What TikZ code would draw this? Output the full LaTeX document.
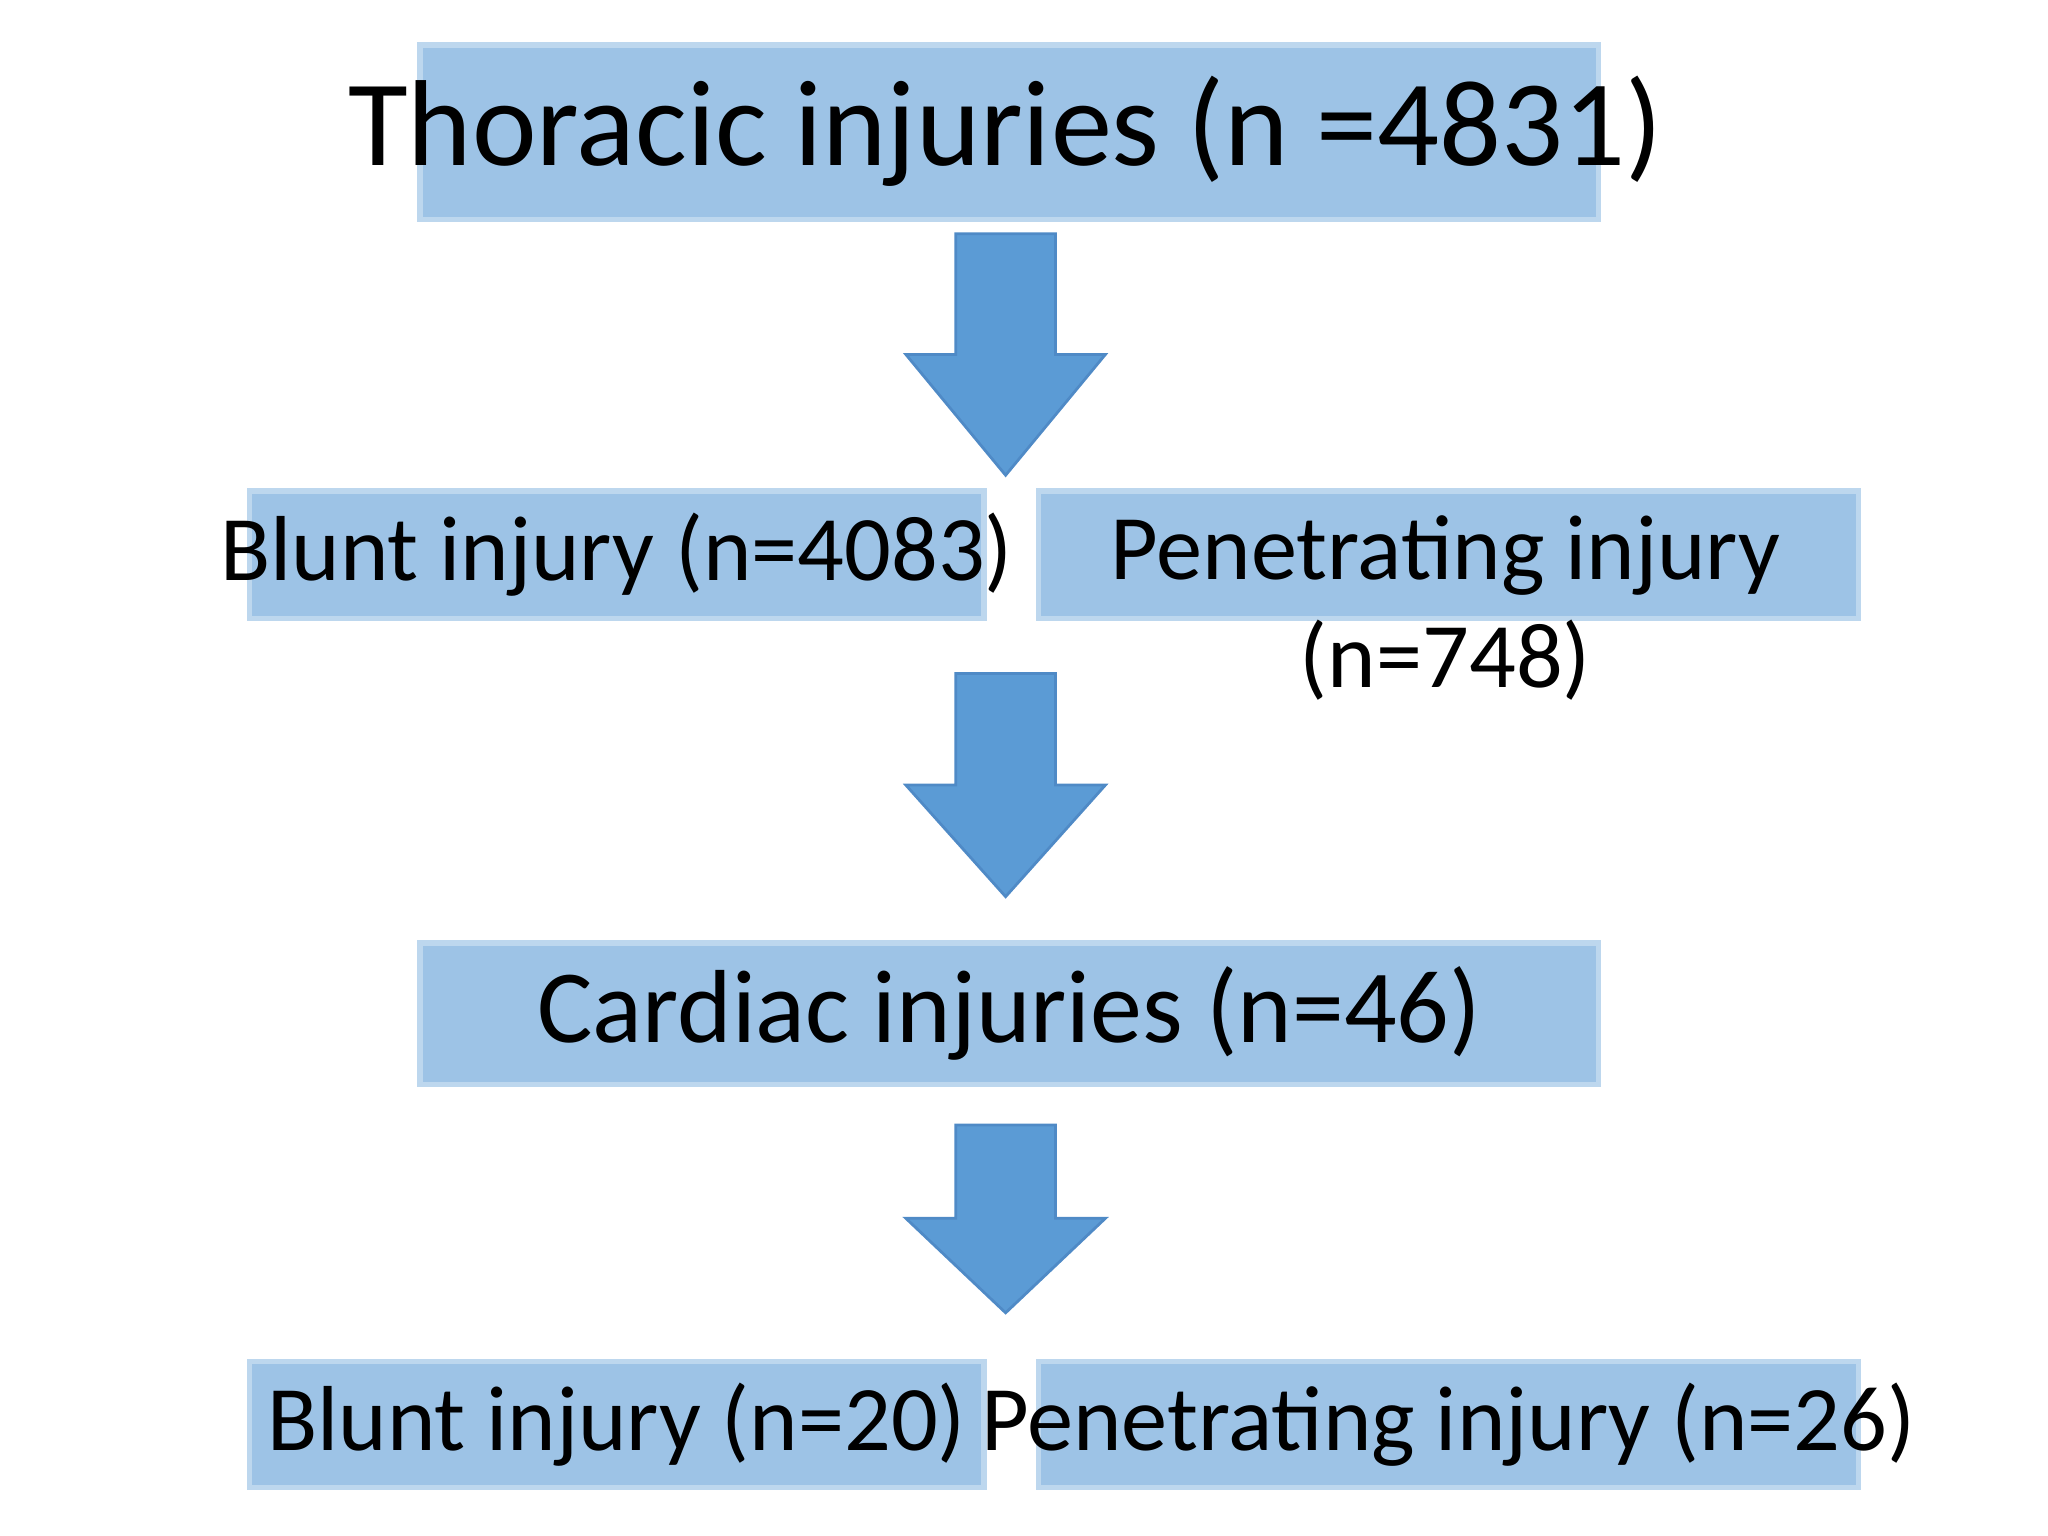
\documentclass[tikz,border=0pt]{standalone}
\usepackage{fontspec}
\setmainfont{Carlito}
\begin{document}
\begin{tikzpicture}[x=0.01cm,y=-0.01cm,
  box/.style={fill=boxfill,draw=boxline,line width=1.2pt,inner sep=0pt,anchor=north west},
  bigarrow/.style={fill=arrfill,draw=arrline,line width=0.6pt}]
\definecolor{boxfill}{HTML}{9DC3E6}
\definecolor{boxline}{HTML}{BDD7EE}
\definecolor{arrfill}{HTML}{5B9BD5}
\definecolor{arrline}{HTML}{4F8AC6}
\useasboundingbox (0,0) rectangle (1560,1170);
\node[box,minimum width=897\pgflinewidth*0+8.97cm,minimum height=1.33cm] (top) at (318,32) {};
\node[font=\fontsize{26.5}{30}\selectfont] (toptxt) at (766,100) {Thoracic injuries (n =4831)};
\node[box,minimum width=5.59cm,minimum height=0.97cm] (blunt1) at (188,372) {};
\node[font=\fontsize{20}{24}\selectfont] at (blunt1.center) {Blunt injury (n=4083)};
\node[box,minimum width=6.24cm,minimum height=0.97cm] (pen1) at (789,372) {};
\node[font=\fontsize{20}{24}\selectfont] (pen1a) at (1101,423) {Penetrating injury};
\node[font=\fontsize{20}{24}\selectfont] (pen1b) at (1101,503) {(n=748)};
\node[box,minimum width=8.97cm,minimum height=1.08cm] (card) at (318,716) {};
\node[font=\fontsize{22.5}{26}\selectfont] at (card.center) {Cardiac injuries (n=46)};
\node[box,minimum width=5.59cm,minimum height=0.96cm] (blunt2) at (188,1035) {};
\node[font=\fontsize{20}{24}\selectfont] at (blunt2.center) {Blunt injury (n=20)};
\node[box,minimum width=6.24cm,minimum height=0.96cm] (pen2) at (789,1035) {};
\node[font=\fontsize{20}{24}\selectfont] at (pen2.center) {Penetrating injury (n=26)};
\draw[bigarrow] (728,178) -- (804,178) -- (804,270) -- (842,270) -- (766,362) -- (690,270) -- (728,270) -- cycle;
\draw[bigarrow] (728,513) -- (804,513) -- (804,598) -- (842,598) -- (766,683) -- (690,598) -- (728,598) -- cycle;
\draw[bigarrow] (728,857) -- (804,857) -- (804,928) -- (842,928) -- (766,1000) -- (690,928) -- (728,928) -- cycle;
\end{tikzpicture}
\end{document}
